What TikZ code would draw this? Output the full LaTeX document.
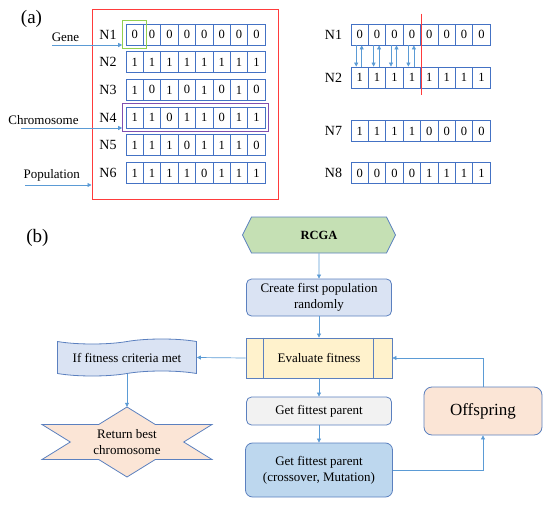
\documentclass[tikz,border=0pt]{standalone}
\usepackage{fontspec}
\setmainfont{Liberation Serif}
\usetikzlibrary{arrows.meta, positioning, fit, calc, shapes.symbols}

\definecolor{cellblue}{HTML}{4472C4}
\definecolor{arrowblue}{HTML}{5B9BD5}
\definecolor{framered}{HTML}{FF3B3B}
\definecolor{genegreen}{HTML}{92D050}
\definecolor{chrompurple}{HTML}{7F4FB0}
\definecolor{edgeblue}{HTML}{5B80BF}
\definecolor{startfill}{HTML}{C5E0B4}
\definecolor{createfill}{HTML}{DAE3F3}
\definecolor{evalfill}{HTML}{FFF2CC}
\definecolor{greyfill}{HTML}{F2F2F2}
\definecolor{crossfill}{HTML}{BDD7EE}
\definecolor{offfill}{HTML}{FBE5D6}

\tikzset{
  cell/.style={draw=cellblue, line width=0.8pt, minimum width=17.4, minimum height=21, inner sep=0pt, font=\fontsize{12.5}{14}\selectfont},
  rowlabel/.style={font=\fontsize{14}{16}\selectfont},
  sidelabel/.style={font=\fontsize{13}{15}\selectfont},
  partlabel/.style={font=\fontsize{19}{21}\selectfont},
  pointer/.style={draw=arrowblue, line width=0.7pt, -{Triangle[length=4pt,width=4pt]}},
  cutline/.style={draw=framered, line width=0.9pt},
  flow/.style={draw=edgeblue, line width=0.8pt, align=center, inner sep=2pt, font=\fontsize{13}{16}\selectfont},
  stepbox/.style={flow, rounded corners=5pt},
}

\begin{document}
\begin{tikzpicture}[x=1pt, y=-1pt]
  \useasboundingbox (0,0) rectangle (550,506);

  % (a) population
  \node[partlabel] (parta) at (31.5,19) {(a)};
  \foreach \r/\y/\bits in {1/34.5/{0,0,0,0,0,0,0,0}, 2/62.2/{1,1,1,1,1,1,1,1}, 3/89.9/{1,0,1,0,1,0,1,0},
                           4/117.6/{1,1,0,1,1,0,1,1}, 5/145.3/{1,1,1,0,1,1,1,0}, 6/173/{1,1,1,1,0,1,1,1}} {
    \node[rowlabel] (ln\r) at (108,\y) {N\r};
    \foreach \b [count=\i] in \bits
      \node[cell] (l\r-\i) at ({117.3+17.4*\i},\y) {\b};
  }

  \node[draw=genegreen, line width=0.8pt, inner sep=3pt, fit=(l1-1)] (gene) {};
  \node[draw=chrompurple, line width=0.8pt, inner sep=3pt, fit=(l4-1)(l4-8)] (chrom) {};
  \node[draw=framered, line width=1pt, minimum width=186, minimum height=190] (pop) at (185,104) {};

  \node[sidelabel] (genelbl) at (65.5,37) {Gene};
  \node[sidelabel] (chromlbl) at (43.5,120) {Chromosome};
  \node[sidelabel] (poplbl) at (51.7,175) {Population};
  \coordinate (genefrom) at (52,45);
  \coordinate (chromfrom) at (21,128);
  \coordinate (popfrom) at (25,185);
  \draw[pointer] (genefrom) -- (genefrom -| gene.west);
  \draw[pointer] (chromfrom) -- (chromfrom -| chrom.west);
  \draw[pointer] (popfrom) -- (popfrom -| pop.west);

  % (a) crossover
  \foreach \r/\y/\bits in {1/34.5/{0,0,0,0,0,0,0,0}, 2/77.5/{1,1,1,1,1,1,1,1},
                           7/131/{1,1,1,1,0,0,0,0}, 8/173/{0,0,0,0,1,1,1,1}} {
    \node[rowlabel] (qn\r) at (333.5,\y) {N\r};
    \foreach \b [count=\i] in \bits
      \node[cell] (q\r-\i) at ({342.3+17.4*\i},\y) {\b};
  }
  \foreach \i in {1,...,4} {
    \draw[pointer] ([xshift=-3.5pt]q1-\i.south) -- ([xshift=-3.5pt]q2-\i.north);
    \draw[pointer] ([xshift=2pt]q2-\i.north) -- ([xshift=2pt]q1-\i.south);
  }
  \draw[cutline] ([yshift=10pt]q1-4.north east) -- ([yshift=-7pt]q2-4.south east);

  % (b) flowchart
  \node[partlabel] (partb) at (37.5,238) {(b)};
  \node[flow, signal, signal to=west and east, signal pointer angle=127, fill=startfill,
        minimum width=153, minimum height=36, font=\fontsize{12.5}{15}\selectfont\bfseries] (rcga) at (319,235) {RCGA};
  \node[stepbox, fill=createfill, minimum width=145, minimum height=37] (create) at (319,297.5) {Create first population\\randomly};
  \node[flow, fill=evalfill, minimum width=146, minimum height=40] (eval) at (319,358) {Evaluate fitness};
  \draw[draw=edgeblue, line width=0.8pt] ([xshift=18pt]eval.north west) -- ([xshift=18pt]eval.south west);
  \draw[draw=edgeblue, line width=0.8pt] ([xshift=-19pt]eval.north east) -- ([xshift=-19pt]eval.south east);
  \node[stepbox, fill=greyfill, minimum width=145, minimum height=28] (parent) at (319,411) {Get fittest parent};
  \node[stepbox, fill=crossfill, minimum width=147, minimum height=54, rounded corners=7pt] (cross) at (319,470) {Get fittest parent\\(crossover, Mutation)};
  \node[stepbox, fill=offfill, minimum width=118, minimum height=48, rounded corners=8pt, font=\fontsize{17}{19}\selectfont] (off) at (483,411) {Offspring};
  \node[flow, tape, tape bend top=in and out, tape bend bottom=in and out, fill=createfill,
        minimum width=139, minimum height=37] (crit) at (127,357.5) {If fitness criteria met};

  \coordinate (bestc) at (127,442);
  \draw[draw=edgeblue, line width=0.8pt, fill=offfill, shift={(bestc)}]
    (0,-35) -- (-28.3,-17.5) -- (-85,-17.5) -- (-56.7,0) -- (-85,17.5) -- (-28.3,17.5) -- (0,35)
    -- (28.3,17.5) -- (85,17.5) -- (56.7,0) -- (85,-17.5) -- (28.3,-17.5) -- cycle;
  \node[align=center, minimum width=170, minimum height=70, font=\fontsize{13}{16}\selectfont] (best) at (bestc) {Return best\\chromosome};

  \draw[pointer] (rcga) -- (create);
  \draw[pointer] (create) -- (eval);
  \draw[pointer] (eval) -- (parent);
  \draw[pointer] (parent) -- (cross);
  \draw[pointer] (eval.west) -- (crit.east);
  \draw[pointer] (crit.south) -- (best.north);
  \draw[pointer] (cross.east) -| (off.south);
  \draw[pointer] (off.north) |- (eval.east);
\end{tikzpicture}
\end{document}
